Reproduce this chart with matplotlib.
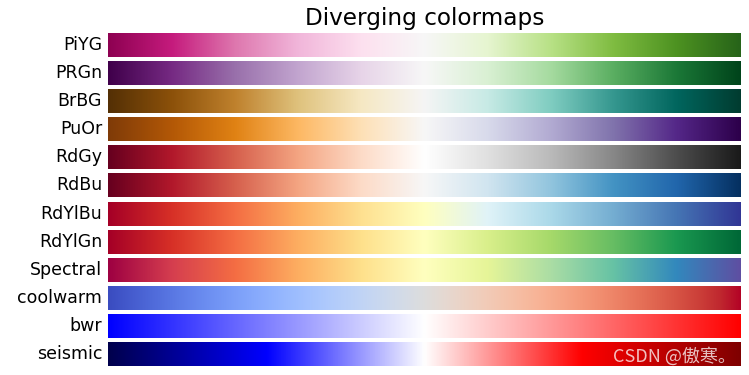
import numpy as np
import matplotlib
matplotlib.use("Agg")
import matplotlib.pyplot as plt

# colormap names, top to bottom
cmap_list = ['PiYG', 'PRGn', 'BrBG', 'PuOr', 'RdGy', 'RdBu',
             'RdYlBu', 'RdYlGn', 'Spectral', 'coolwarm', 'bwr', 'seismic']
title = "Diverging colormaps"
watermark = "CSDN @傲寒。"

gradient = np.linspace(0, 1, 256)
gradient = np.vstack((gradient, gradient))

fig, axs = plt.subplots(nrows=len(cmap_list), figsize=(7.49, 3.75), dpi=100)
fig.subplots_adjust(top=1 - 33 / 375, bottom=1 - 366 / 375,
                    left=108.5 / 749, right=741 / 749, hspace=0.167)

axs[0].set_title(title, fontsize=16.7)

for ax, name in zip(axs, cmap_list):
    ax.imshow(gradient, aspect='auto', cmap=plt.get_cmap(name))
    ax.text(-0.01, 0.5, name, va='center', ha='right', fontsize=12.5,
            transform=ax.transAxes)
    ax.set_axis_off()

# watermark in the lower right corner
fig.text(736 / 749, 1 - 362 / 375, watermark, ha='right', va='baseline',
         fontsize=13, color='white', alpha=0.75,
         family=['Noto Sans CJK SC', 'DejaVu Sans'])

fig.savefig("out.png", dpi=100)
